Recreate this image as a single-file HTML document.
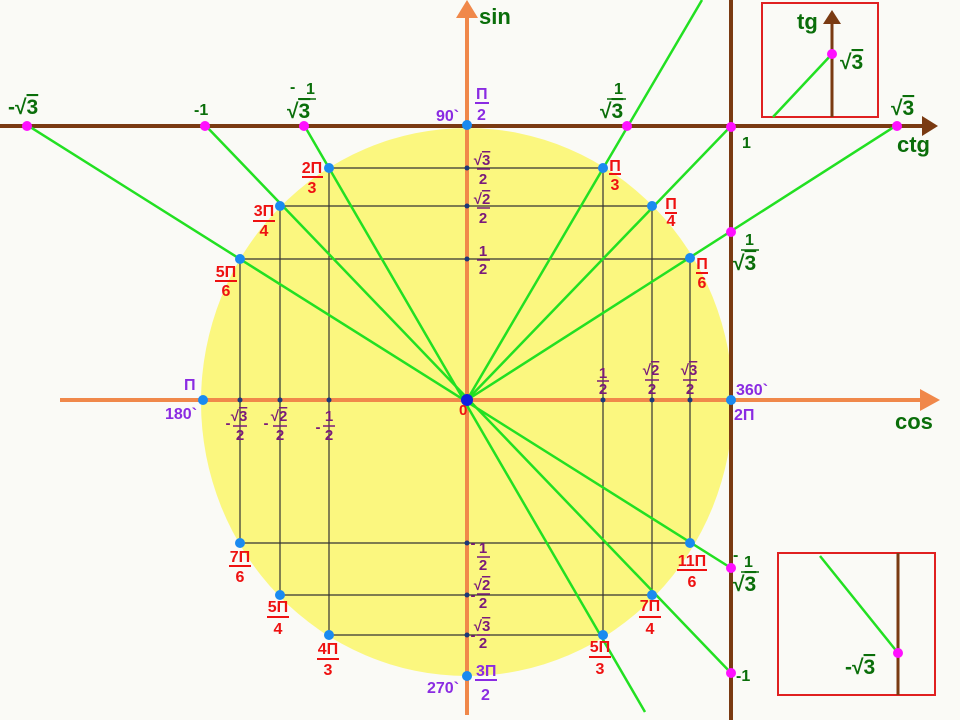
<!DOCTYPE html>
<html><head><meta charset="utf-8"><style>
html,body{margin:0;padding:0;background:#fafaf6;}
svg{display:block;font-family:"Liberation Sans",sans-serif;font-weight:bold;}
.r{fill:#ee1111;font-size:16px;text-anchor:middle}
.p{fill:#8a2be2;font-size:16px}
.d{fill:#7a1a7a;font-size:15px;text-anchor:middle}
.g{fill:#0a6e0a;font-size:16px}
.gs{fill:#0a6e0a;font-size:21px}
.ax{fill:#0a6e0a;font-size:22px}
.o{text-decoration:overline}
</style></head><body>
<svg width="960" height="720" viewBox="0 0 960 720">
<rect width="960" height="720" fill="#fafaf6"/>
<ellipse cx="467" cy="402" rx="266" ry="274" fill="#fbf77f"/>
<g stroke="#333" stroke-width="1.2">
<line x1="329" y1="168" x2="603" y2="168"/><line x1="280" y1="206" x2="652" y2="206"/><line x1="240" y1="259" x2="690" y2="259"/>
<line x1="240" y1="543" x2="690" y2="543"/><line x1="280" y1="595" x2="652" y2="595"/><line x1="329" y1="635" x2="603" y2="635"/>
<line x1="240" y1="259" x2="240" y2="543"/><line x1="280" y1="206" x2="280" y2="595"/><line x1="329" y1="168" x2="329" y2="635"/>
<line x1="603" y1="168" x2="603" y2="635"/><line x1="652" y1="206" x2="652" y2="595"/><line x1="690" y1="259" x2="690" y2="543"/>
</g>
<line x1="60" y1="400" x2="925" y2="400" stroke="#f0884a" stroke-width="4"/>
<polygon points="940,400 920,389 920,411" fill="#f0884a"/>
<line x1="467" y1="715" x2="467" y2="15" stroke="#f0884a" stroke-width="4"/>
<polygon points="467,0 456,18 478,18" fill="#f0884a"/>
<line x1="0" y1="126" x2="925" y2="126" stroke="#7a3a12" stroke-width="4"/>
<polygon points="938,126 922,116 922,136" fill="#7a3a12"/>
<line x1="731" y1="0" x2="731" y2="720" stroke="#7a3a12" stroke-width="4"/>
<g stroke="#22e022" stroke-width="2.5">
<line x1="467" y1="400" x2="702" y2="0"/>
<line x1="467" y1="400" x2="731" y2="126"/>
<line x1="467" y1="400" x2="897" y2="125"/>
<line x1="304" y1="125" x2="645" y2="712"/>
<line x1="205" y1="125" x2="731" y2="673"/>
<line x1="27" y1="125" x2="731" y2="568"/>
</g>
<g fill="#1a3a7a">
<circle cx="467" cy="168" r="2.5"/><circle cx="467" cy="206" r="2.5"/><circle cx="467" cy="259" r="2.5"/>
<circle cx="467" cy="543" r="2.5"/><circle cx="467" cy="595" r="2.5"/><circle cx="467" cy="635" r="2.5"/>
<circle cx="240" cy="400" r="2.5"/><circle cx="280" cy="400" r="2.5"/><circle cx="329" cy="400" r="2.5"/>
<circle cx="603" cy="400" r="2.5"/><circle cx="652" cy="400" r="2.5"/><circle cx="690" cy="400" r="2.5"/>
</g>
<g fill="#1a8af0">
<circle cx="603" cy="168" r="5"/><circle cx="652" cy="206" r="5"/><circle cx="690" cy="258" r="5"/>
<circle cx="329" cy="168" r="5"/><circle cx="280" cy="206" r="5"/><circle cx="240" cy="259" r="5"/>
<circle cx="240" cy="543" r="5"/><circle cx="280" cy="595" r="5"/><circle cx="329" cy="635" r="5"/>
<circle cx="690" cy="543" r="5"/><circle cx="652" cy="595" r="5"/><circle cx="603" cy="635" r="5"/>
<circle cx="467" cy="125" r="5"/><circle cx="467" cy="676" r="5"/><circle cx="203" cy="400" r="5"/><circle cx="731" cy="400" r="5"/>
</g>
<circle cx="467" cy="400" r="6" fill="#1020e0"/>
<g fill="#ff10ff">
<circle cx="27" cy="126" r="5"/><circle cx="205" cy="126" r="5"/><circle cx="304" cy="126" r="5"/>
<circle cx="627" cy="126" r="5"/><circle cx="731" cy="127" r="5"/><circle cx="897" cy="126" r="5"/>
<circle cx="731" cy="232" r="5"/><circle cx="731" cy="568" r="5"/><circle cx="731" cy="673" r="5"/>
</g>
<rect x="762" y="3" width="116" height="114" fill="none" stroke="#e02020" stroke-width="2"/>
<line x1="832" y1="117" x2="832" y2="22" stroke="#7a3a12" stroke-width="3"/>
<polygon points="832,10 823,24 841,24" fill="#7a3a12"/>
<line x1="773" y1="117" x2="832" y2="54" stroke="#22e022" stroke-width="2.5"/>
<circle cx="832" cy="54" r="5" fill="#ff10ff"/>
<text x="797" y="29" class="ax">tg</text>
<text x="840" y="69" class="gs">√<tspan class="o">3</tspan></text>
<rect x="778" y="553" width="157" height="142" fill="none" stroke="#e02020" stroke-width="2"/>
<line x1="898" y1="553" x2="898" y2="695" stroke="#7a3a12" stroke-width="3"/>
<line x1="820" y1="556" x2="898" y2="653" stroke="#22e022" stroke-width="2.5"/>
<circle cx="898" cy="653" r="5" fill="#ff10ff"/>
<text x="845" y="674" class="gs">-√<tspan class="o">3</tspan></text>
<text x="479" y="24" class="ax">sin</text>
<text x="895" y="429" class="ax">cos</text>
<text x="897" y="152" class="ax">ctg</text>
<g>
<text x="312" y="173" class="r">2Π</text><text x="312" y="193" class="r">3</text>
<text x="264" y="216" class="r">3Π</text><text x="264" y="236" class="r">4</text>
<text x="226" y="277" class="r">5Π</text><text x="226" y="296" class="r">6</text>
<text x="615" y="171" class="r">Π</text><text x="615" y="190" class="r">3</text>
<text x="671" y="209" class="r">Π</text><text x="671" y="226" class="r">4</text>
<text x="702" y="269" class="r">Π</text><text x="702" y="288" class="r">6</text>
<text x="240" y="562" class="r">7Π</text><text x="240" y="582" class="r">6</text>
<text x="278" y="612" class="r">5Π</text><text x="278" y="634" class="r">4</text>
<text x="328" y="654" class="r">4Π</text><text x="328" y="675" class="r">3</text>
<text x="600" y="652" class="r">5Π</text><text x="600" y="674" class="r">3</text>
<text x="650" y="611" class="r">7Π</text><text x="650" y="634" class="r">4</text>
<text x="692" y="566" class="r">11Π</text><text x="692" y="587" class="r">6</text>
</g>
<g stroke="#ee1111" stroke-width="2">
<line x1="302" y1="177" x2="323" y2="177"/><line x1="253" y1="221" x2="275" y2="221"/><line x1="215" y1="281" x2="237" y2="281"/>
<line x1="609" y1="174" x2="621" y2="174"/><line x1="665" y1="213" x2="677" y2="213"/><line x1="696" y1="273" x2="708" y2="273"/>
<line x1="229" y1="566" x2="251" y2="566"/><line x1="267" y1="617" x2="289" y2="617"/><line x1="317" y1="659" x2="339" y2="659"/>
<line x1="589" y1="657" x2="611" y2="657"/><line x1="639" y1="617" x2="661" y2="617"/><line x1="677" y1="570" x2="707" y2="570"/>
</g>
<text x="459" y="415" fill="#ee1111" font-size="15">0</text>
<text x="476" y="99" class="p">Π</text><line x1="475" y1="103" x2="489" y2="103" stroke="#8a2be2" stroke-width="2"/><text x="477" y="120" class="p">2</text>
<text x="436" y="121" class="p">90`</text>
<text x="736" y="395" class="p">360`</text>
<text x="734" y="420" class="p">2Π</text>
<text x="184" y="390" class="p">Π</text>
<text x="165" y="419" class="p">180`</text>
<text x="476" y="676" class="p">3Π</text><line x1="475" y1="680" x2="497" y2="680" stroke="#8a2be2" stroke-width="2"/><text x="481" y="700" class="p">2</text>
<text x="427" y="693" class="p">270`</text>
<g>
<text x="482" y="165" class="d">√<tspan class="o">3</tspan></text><text x="483" y="184" class="d">2</text>
<text x="482" y="204" class="d">√<tspan class="o">2</tspan></text><text x="483" y="223" class="d">2</text>
<text x="483" y="256" class="d">1</text><text x="483" y="274" class="d">2</text>
<text x="483" y="553" class="d">1</text><text x="483" y="570" class="d">2</text><text x="473" y="548" class="d">-</text>
<text x="482" y="590" class="d">√<tspan class="o">2</tspan></text><text x="483" y="608" class="d">2</text><text x="473" y="600" class="d">-</text>
<text x="482" y="631" class="d">√<tspan class="o">3</tspan></text><text x="483" y="648" class="d">2</text><text x="473" y="640" class="d">-</text>
<text x="603" y="378" class="d">1</text><text x="603" y="394" class="d">2</text>
<text x="651" y="375" class="d">√<tspan class="o">2</tspan></text><text x="652" y="394" class="d">2</text>
<text x="689" y="375" class="d">√<tspan class="o">3</tspan></text><text x="690" y="394" class="d">2</text>
<text x="239" y="421" class="d">√<tspan class="o">3</tspan></text><text x="240" y="440" class="d">2</text><text x="228" y="428" class="d">-</text>
<text x="279" y="421" class="d">√<tspan class="o">2</tspan></text><text x="280" y="440" class="d">2</text><text x="266" y="428" class="d">-</text>
<text x="329" y="421" class="d">1</text><text x="329" y="440" class="d">2</text><text x="318" y="432" class="d">-</text>
</g>
<g stroke="#7a1a7a" stroke-width="1.5">
<line x1="477" y1="169" x2="490" y2="169"/><line x1="477" y1="208" x2="490" y2="208"/><line x1="477" y1="260" x2="490" y2="260"/>
<line x1="477" y1="557" x2="490" y2="557"/><line x1="477" y1="594" x2="490" y2="594"/><line x1="477" y1="635" x2="490" y2="635"/>
<line x1="597" y1="381" x2="609" y2="381"/><line x1="645" y1="380" x2="659" y2="380"/><line x1="683" y1="380" x2="697" y2="380"/>
<line x1="233" y1="426" x2="247" y2="426"/><line x1="273" y1="426" x2="287" y2="426"/><line x1="323" y1="426" x2="335" y2="426"/>
</g>
<text x="8" y="114" class="gs">-√<tspan class="o">3</tspan></text>
<text x="194" y="115" class="g">-1</text>
<text x="306" y="94" class="g">1</text><text x="290" y="92" class="g">-</text><text x="287" y="118" class="gs">√<tspan class="o">3</tspan></text>
<text x="614" y="94" class="g">1</text><text x="600" y="118" class="gs">√<tspan class="o">3</tspan></text>
<text x="891" y="115" class="gs">√<tspan class="o">3</tspan></text>
<text x="742" y="148" class="g">1</text>
<text x="745" y="245" class="g">1</text><text x="733" y="270" class="gs">√<tspan class="o">3</tspan></text>
<text x="744" y="567" class="g">1</text><text x="733" y="560" class="g">-</text><text x="733" y="591" class="gs">√<tspan class="o">3</tspan></text>
<text x="736" y="681" class="g">-1</text>
<g stroke="#0a6e0a" stroke-width="1.5">
<line x1="298" y1="99" x2="316" y2="99"/><line x1="607" y1="99" x2="626" y2="99"/>
<line x1="741" y1="250" x2="759" y2="250"/><line x1="741" y1="572" x2="759" y2="572"/>
</g>
</svg>
</body></html>
